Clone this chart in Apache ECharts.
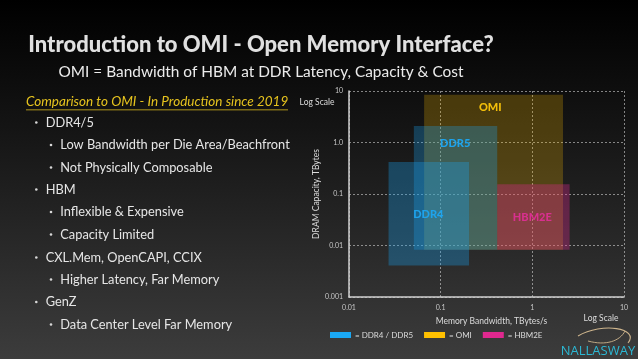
<!DOCTYPE html>
<html><head><meta charset="utf-8">
<script src="https://cdn.jsdelivr.net/npm/echarts@6/dist/echarts.min.js"></script>
<style>html,body{margin:0;padding:0;background:#000}#c{width:638px;height:359px}</style>
</head><body><div id="c"></div>
<script>
// ---- data ----
var techNames = ['OMI', 'DDR4', 'DDR5', 'HBM2E'];
var legendNames = ['DDR4 / DDR5', 'OMI', 'HBM2E'];
// bandwidth range TBytes/s [min, max]
var bwMin = [0.066, 0.027, 0.051, 0.414];
var bwMax = [2.16, 0.204, 0.414, 2.55];
// capacity range TBytes [min, max]
var capMin = [0.0083, 0.0041, 0.0083, 0.0083];
var capMax = [8.5, 0.417, 2.09, 0.155];
// label anchor positions [bandwidth, capacity]
var labelBw = [0.348, 0.0733, 0.144, 1.0];
var labelCap = [4.82, 0.0404, 0.964, 0.0353];
var xTickLabels = ['0.01', '0.1', '1', '10'];
var yTickLabels = ['0.001', '0.01', '0.1', '1.0', '10'];
var bullets = [
  [1, 'DDR4/5'],
  [2, 'Low Bandwidth per Die Area/Beachfront'],
  [2, 'Not Physically Composable'],
  [1, 'HBM'],
  [2, 'Inflexible & Expensive'],
  [2, 'Capacity Limited'],
  [1, 'CXL.Mem, OpenCAPI, CCIX'],
  [2, 'Higher Latency, Far Memory'],
  [1, 'GenZ'],
  [2, 'Data Center Level Far Memory']
];

// ---- styles ----
var fillColors = {OMI: 'rgba(255,192,0,0.24)', DDR4: 'rgba(26,163,240,0.32)', DDR5: 'rgba(26,163,240,0.30)', HBM2E: 'rgba(224,40,143,0.34)'};
var textColors = {OMI: '#F2BE0A', DDR4: '#1EA3EC', DDR5: '#1EA3EC', HBM2E: '#D8308F'};
var seriesColor = {'DDR4 / DDR5': '#1AA8F4', 'OMI': '#FFC000', 'HBM2E': '#E0288F'};
var seriesOf = {OMI: 'OMI', DDR4: 'DDR4 / DDR5', DDR5: 'DDR4 / DDR5', HBM2E: 'HBM2E'};

function makeSeries(sname) {
  var data = [];
  techNames.forEach(function (t, i) {
    if (seriesOf[t] === sname) data.push({name: t, value: [bwMin[i], bwMax[i], capMin[i], capMax[i], labelBw[i], labelCap[i]]});
  });
  return {
    type: 'custom', name: sname, coordinateSystem: 'cartesian2d',
    itemStyle: {color: seriesColor[sname]},
    encode: {x: [0, 1], y: [2, 3]},
    data: data, silent: true,
    renderItem: function (params, api) {
      var name = data[params.dataIndex].name;
      var p1 = api.coord([api.value(0), api.value(3)]);
      var p2 = api.coord([api.value(1), api.value(2)]);
      var lp = api.coord([api.value(4), api.value(5)]);
      return {type: 'group', children: [
        {type: 'rect', shape: {x: p1[0], y: p1[1], width: p2[0] - p1[0], height: p2[1] - p1[1]},
         style: {fill: fillColors[name]}},
        {type: 'text', x: lp[0], y: lp[1], z2: 100,
         style: {text: name, fill: textColors[name], font: '900 11px Lato', align: 'center', verticalAlign: 'middle'}}
      ]};
    }
  };
}
// draw order: OMI first, then DDR, then HBM2E
var series = [makeSeries('OMI'), makeSeries('DDR4 / DDR5'), makeSeries('HBM2E')];

var graphics = [];
graphics.push({type: 'text', x: 261, y: 45, style: {text: 'Introduction to OMI - Open Memory Interface?', font: '900 22px Lato', align: 'center', verticalAlign: 'middle', fill: '#e0e0e0'}});
graphics.push({type: 'text', x: 261, y: 72, style: {text: 'OMI = Bandwidth of HBM at DDR Latency, Capacity & Cost', font: '15.4px Lato', align: 'center', verticalAlign: 'middle', fill: '#ececec'}});
graphics.push({type: 'text', x: 26, y: 102, style: {text: 'Comparison to OMI - In Production since 2019', font: 'italic 13.5px Lato', verticalAlign: 'middle', fill: '#E6C31E'}});
graphics.push({type: 'rect', shape: {x: 26, y: 109.5, width: 262, height: 0.8}, style: {fill: '#E6C31E'}});
var rowY = [122.5, 145, 167.5, 189.5, 212, 234.5, 257.5, 279.5, 302, 324.5];
bullets.forEach(function (b, i) {
  var lvl = b[0];
  var dotX = lvl === 1 ? 36.3 : 51;
  var txtX = lvl === 1 ? 45.7 : 60.3;
  graphics.push({type: 'circle', shape: {cx: dotX, cy: rowY[i], r: 1.3}, style: {fill: '#d8d8d8'}});
  graphics.push({type: 'text', x: txtX, y: rowY[i], style: {text: b[1], font: '12.8px Lato', verticalAlign: 'middle', fill: '#e6e6e6'}});
});
graphics.push({type: 'text', x: 317, y: 102.5, style: {text: 'Log Scale', font: '8.5px Lato', align: 'center', verticalAlign: 'middle', fill: '#dcdcdc'}});
graphics.push({type: 'text', x: 601, y: 318.5, style: {text: 'Log Scale', font: '8.5px Lato', align: 'center', verticalAlign: 'middle', fill: '#dcdcdc'}});
// logo
graphics.push({type: 'bezierCurve', shape: {x1: 578, y1: 336, x2: 628, y2: 343, cpx1: 602, cpy1: 322, cpx2: 640, cpy2: 328}, style: {stroke: '#cdb48c', lineWidth: 1.1, fill: null}});
graphics.push({type: 'bezierCurve', shape: {x1: 588, y1: 341, x2: 625, y2: 331, cpx1: 606, cpy1: 346, cpx2: 620, cpy2: 341}, style: {stroke: '#cdb48c', lineWidth: 0.9, fill: null}});
graphics.push({type: 'text', x: 598, y: 351, style: {text: 'NALLASWAY', font: '13px "Open Sans"', align: 'center', verticalAlign: 'middle', fill: '#2CB8D4'}});

var chart = echarts.init(document.getElementById('c'));
chart.setOption({
  backgroundColor: new echarts.graphic.LinearGradient(0, 0, 0, 1, [{offset: 0, color: '#000000'}, {offset: 0.35, color: '#141414'}, {offset: 1, color: '#3c3c3c'}]),
  animation: false,
  grid: {left: 349, right: 14, top: 91, bottom: 62},
  legend: {
    data: legendNames, left: 325, top: 326, itemWidth: 21, itemHeight: 6, itemGap: 11, icon: 'rect',
    formatter: function (n) { return '= ' + n; },
    textStyle: {color: '#dcdcdc', fontSize: 8, fontFamily: 'Lato', padding: [0, 0, 0, -1]}
  },
  xAxis: {
    type: 'log', logBase: 10, min: 0.01, max: 10,
    name: 'Memory Bandwidth, TBytes/s', nameLocation: 'middle', nameGap: 20,
    nameTextStyle: {color: '#dcdcdc', fontSize: 8.5, fontFamily: 'Lato', padding: [0, 0, 0, 10]},
    axisLine: {show: true, lineStyle: {color: '#d0d0d0', width: 1.5}},
    axisTick: {show: false},
    axisLabel: {color: '#c8c8c8', fontSize: 7, fontFamily: 'Lato', margin: 7,
      formatter: function (v) { return xTickLabels[Math.round(Math.log10(v)) + 2]; }},
    splitLine: {show: true, lineStyle: {color: 'rgba(210,210,210,0.6)', type: [2, 2], width: 1}}
  },
  yAxis: {
    type: 'log', logBase: 10, min: 0.001, max: 10,
    name: 'DRAM Capacity, TBytes', nameLocation: 'middle', nameGap: 27, nameRotate: 90,
    nameTextStyle: {color: '#dcdcdc', fontSize: 8.5, fontFamily: 'Lato'},
    axisLine: {show: true, lineStyle: {color: '#d0d0d0', width: 1.5}},
    axisTick: {show: false},
    axisLabel: {color: '#c8c8c8', fontSize: 7, fontFamily: 'Lato', margin: 6,
      formatter: function (v) { return yTickLabels[Math.round(Math.log10(v)) + 3]; }},
    splitLine: {show: true, lineStyle: {color: 'rgba(210,210,210,0.6)', type: [2, 2], width: 1}}
  },
  series: series,
  graphic: {elements: graphics}
});
</script></body></html>
